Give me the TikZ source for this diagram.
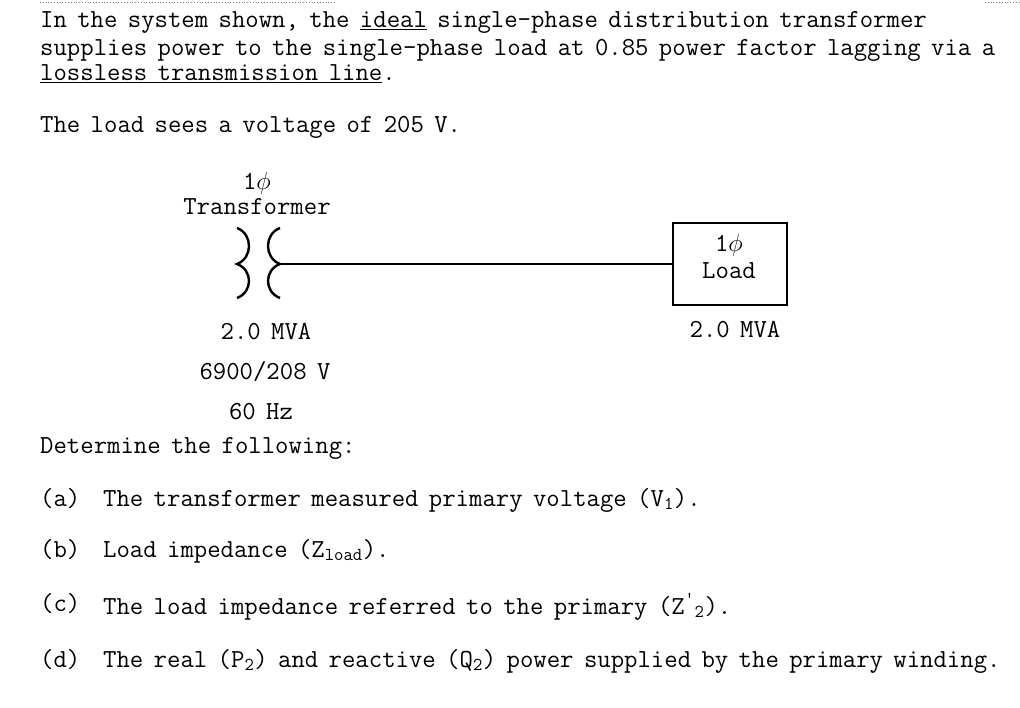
\documentclass[tikz,border=0pt]{standalone}
\begin{document}
\begin{tikzpicture}[x=1pt,y=-1pt,
  txt/.style={anchor=base west,inner sep=0pt,font=\fontsize{26}{30}\selectfont\ttfamily,execute at begin node={\spaceskip=0.4em\relax}},
  ctxt/.style={anchor=base,inner sep=0pt,font=\fontsize{26}{30}\selectfont\ttfamily,execute at begin node={\spaceskip=0.4em\relax}},
  wire/.style={line width=2.4pt}]
\useasboundingbox (0,0) rectangle (1020,708);
\draw[gray,dotted,line width=0.8pt] (40,2) -- (335,2) (985,2) -- (1020,2);
\node[txt] (l1) at (40,28) {In the system shown, the \underline{ideal} single-phase distribution transformer};
\node[txt] (l2) at (40,56) {supplies power to the single-phase load at 0.85 power factor lagging via a};
\node[txt] (l3) at (40,81) {\underline{lossless transmission line}.};
\node[txt] (l4) at (40,133) {The load sees a voltage of 205 V.};
\node[ctxt] (tp) at (257,190) {1$\phi$};
\node[ctxt] (tt) at (257,215) {Transformer};
\draw[wire] (237,228) .. controls (253,234) and (253,258) .. (237,264)
            .. controls (253,270) and (253,292) .. (237,298);
\draw[wire] (280,228) .. controls (264,234) and (264,258) .. (280,264)
            .. controls (264,270) and (264,292) .. (280,298);
\coordinate (sec) at (280,264);
\node[draw,line width=2.4pt,minimum width=114pt,minimum height=82pt,inner sep=0pt] (load) at (730,264) {};
\node[ctxt] (lp) at (729,252) {1$\phi$};
\node[ctxt] (ll) at (729,279) {Load};
\draw[wire] (sec) -- (load.west);
\node[ctxt] (m1) at (266,340) {2.0 MVA};
\node[ctxt] (m2) at (735,338) {2.0 MVA};
\node[ctxt] (vr) at (265,380) {6900/208 V};
\node[ctxt] (hz) at (261,419) {60 Hz};
\node[txt] (det) at (40,453) {Determine the following:};
\node[txt] (a) at (40,506) {(a)};
\node[txt] (at) at (103,506) {The transformer measured primary voltage (V\textsubscript{1}).};
\node[txt] (b) at (40,557) {(b)};
\node[txt] (bt) at (103,557) {Load impedance (Z\textsubscript{load}).};
\node[txt] (c) at (40,611) {(c)};
\node[txt] (ct) at (103,614) {The load impedance referred to the primary (Z\textsuperscript{'}\textsubscript{2}).};
\node[txt] (d) at (40,667) {(d)};
\node[txt] (dt) at (103,667) {The real (P\textsubscript{2}) and reactive (Q\textsubscript{2}) power supplied by the primary winding.};
\end{tikzpicture}
\end{document}
